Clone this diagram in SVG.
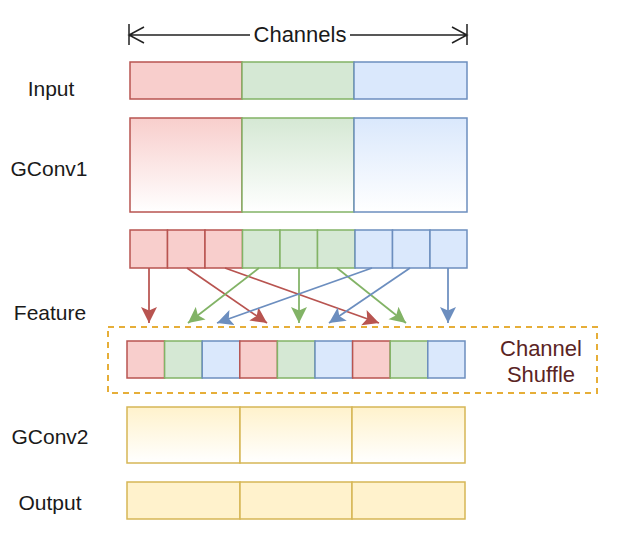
<svg xmlns="http://www.w3.org/2000/svg" width="629" height="533" viewBox="0 0 629 533">
  <style>
    .lbl { font-family: "Liberation Sans", Arial, sans-serif; font-size: 21px; fill: #1a1a1a; text-anchor: middle; }
    .r { fill: #f8cecc; stroke: #b85450; stroke-width: 1.5; }
    .g { fill: #d5e8d4; stroke: #82b366; stroke-width: 1.5; }
    .b { fill: #dae8fc; stroke: #6c8ebf; stroke-width: 1.5; }
    .y { fill: #fff2cc; stroke: #d6b656; stroke-width: 1.5; }
    .rg { fill: url(#gr); stroke: #b85450; stroke-width: 1.5; }
    .gg { fill: url(#gg); stroke: #82b366; stroke-width: 1.5; }
    .bg { fill: url(#gb); stroke: #6c8ebf; stroke-width: 1.5; }
    .yg { fill: url(#gy); stroke: #d6b656; stroke-width: 1.5; }
    .ar { stroke: #b85450; stroke-width: 1.75; fill: none; marker-end: url(#mr); }
    .ag { stroke: #82b366; stroke-width: 1.75; fill: none; marker-end: url(#mg); }
    .ab { stroke: #6c8ebf; stroke-width: 1.75; fill: none; marker-end: url(#mb); }
    .dim { stroke: #222; stroke-width: 1.5; fill: none; }
  </style>
  <defs>
    <linearGradient id="gr" x1="0" y1="0" x2="0" y2="1"><stop offset="0" stop-color="#f8cecc"/><stop offset="1" stop-color="#ffffff"/></linearGradient>
    <linearGradient id="gg" x1="0" y1="0" x2="0" y2="1"><stop offset="0" stop-color="#d5e8d4"/><stop offset="1" stop-color="#ffffff"/></linearGradient>
    <linearGradient id="gb" x1="0" y1="0" x2="0" y2="1"><stop offset="0" stop-color="#dae8fc"/><stop offset="1" stop-color="#ffffff"/></linearGradient>
    <linearGradient id="gy" x1="0" y1="0" x2="0" y2="1"><stop offset="0" stop-color="#fff2cc"/><stop offset="1" stop-color="#ffffff"/></linearGradient>
    <marker id="mr" markerUnits="userSpaceOnUse" markerWidth="17" markerHeight="17" refX="16" refY="8" orient="auto" viewBox="0 0 17 17"><path d="M0,0 L16,8 L0,16 L3.5,8 Z" fill="#b85450"/></marker>
    <marker id="mg" markerUnits="userSpaceOnUse" markerWidth="17" markerHeight="17" refX="16" refY="8" orient="auto" viewBox="0 0 17 17"><path d="M0,0 L16,8 L0,16 L3.5,8 Z" fill="#82b366"/></marker>
    <marker id="mb" markerUnits="userSpaceOnUse" markerWidth="17" markerHeight="17" refX="16" refY="8" orient="auto" viewBox="0 0 17 17"><path d="M0,0 L16,8 L0,16 L3.5,8 Z" fill="#6c8ebf"/></marker>
  </defs>

  <g id="labels">
    <text class="lbl" x="51" y="96">Input</text>
    <text class="lbl" x="49" y="176">GConv1</text>
    <text class="lbl" x="50" y="320">Feature</text>
    <text class="lbl" x="50" y="444">GConv2</text>
    <text class="lbl" x="50" y="510">Output</text>
  </g>

  <g id="channels-dim">
    <path class="dim" d="M129,24 V45 M467,24 V45 M129,35 H250 M350,35 H467 M144,27 L129,35 L144,43 M452,27 L467,35 L452,43"/>
    <text class="lbl" x="300" y="42" style="font-size:22px">Channels</text>
  </g>

  <g id="input">
    <rect class="r" x="130" y="62" width="112" height="37"/>
    <rect class="g" x="242" y="62" width="112" height="37"/>
    <rect class="b" x="354" y="62" width="113" height="37"/>
  </g>

  <g id="gconv1">
    <rect class="rg" x="130" y="118" width="112" height="94"/>
    <rect class="gg" x="242" y="118" width="112" height="94"/>
    <rect class="bg" x="354" y="118" width="113" height="94"/>
  </g>

  <g id="feature">
    <rect class="r" x="130" y="230" width="37.5" height="38"/>
    <rect class="r" x="167.5" y="230" width="37.5" height="38"/>
    <rect class="r" x="205" y="230" width="37.5" height="38"/>
    <rect class="g" x="242.5" y="230" width="37.5" height="38"/>
    <rect class="g" x="280" y="230" width="37.5" height="38"/>
    <rect class="g" x="317.5" y="230" width="37.5" height="38"/>
    <rect class="b" x="355" y="230" width="37.5" height="38"/>
    <rect class="b" x="392.5" y="230" width="37.5" height="38"/>
    <rect class="b" x="430" y="230" width="37" height="38"/>
  </g>

  <g id="connectors">
    <line class="ar" x1="149" y1="268" x2="149" y2="323"/>
    <line class="ar" x1="187" y1="268" x2="267" y2="323"/>
    <line class="ar" x1="225" y1="268" x2="379" y2="323"/>
    <line class="ag" x1="259" y1="268" x2="188" y2="323"/>
    <line class="ag" x1="299" y1="268" x2="299" y2="323"/>
    <line class="ag" x1="337" y1="268" x2="406" y2="323"/>
    <line class="ab" x1="372" y1="268" x2="217" y2="323"/>
    <line class="ab" x1="410" y1="268" x2="329" y2="323"/>
    <line class="ab" x1="448" y1="268" x2="448" y2="323"/>
  </g>

  <g id="channel-shuffle">
    <rect x="108" y="327" width="489" height="66" fill="none" stroke="#e6ae38" stroke-width="2" stroke-dasharray="6 5"/>
    <rect class="r" x="127" y="341" width="37.6" height="37"/>
    <rect class="g" x="164.6" y="341" width="37.6" height="37"/>
    <rect class="b" x="202.2" y="341" width="37.6" height="37"/>
    <rect class="r" x="239.8" y="341" width="37.6" height="37"/>
    <rect class="g" x="277.4" y="341" width="37.6" height="37"/>
    <rect class="b" x="315" y="341" width="37.6" height="37"/>
    <rect class="r" x="352.6" y="341" width="37.6" height="37"/>
    <rect class="g" x="390.2" y="341" width="37.6" height="37"/>
    <rect class="b" x="427.8" y="341" width="37.2" height="37"/>
    <text class="lbl" x="541" y="356" style="font-size:22px;fill:#5a2424">Channel</text>
    <text class="lbl" x="541" y="382" style="font-size:22px;fill:#5a2424">Shuffle</text>
  </g>

  <g id="gconv2">
    <rect class="yg" x="127" y="407" width="113" height="56"/>
    <rect class="yg" x="240" y="407" width="112" height="56"/>
    <rect class="yg" x="352" y="407" width="113" height="56"/>
  </g>

  <g id="output">
    <rect class="y" x="127" y="482" width="113" height="37"/>
    <rect class="y" x="240" y="482" width="112" height="37"/>
    <rect class="y" x="352" y="482" width="113" height="37"/>
  </g>
</svg>
